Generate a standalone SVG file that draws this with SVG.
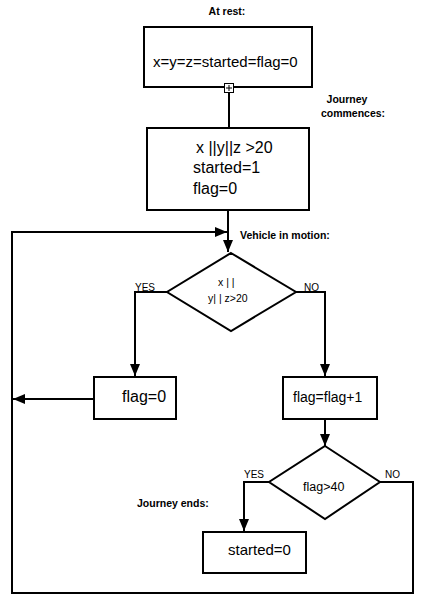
<svg xmlns="http://www.w3.org/2000/svg" width="438" height="606" viewBox="0 0 438 606">
<style>
.box{fill:#fff;stroke:#000;stroke-width:2}
.ln{fill:none;stroke:#000;stroke-width:2}
.t{font-family:"Liberation Sans",Arial,sans-serif;fill:#000}
.b{font-family:"Liberation Sans",Arial,sans-serif;font-weight:bold;font-size:10.5px;fill:#000}
.s{font-family:"Liberation Sans",Arial,sans-serif;font-size:10px;fill:#000}
</style>
<defs>
<marker id="ah" markerUnits="userSpaceOnUse" markerWidth="12" markerHeight="10" viewBox="0 0 12 10" refX="12" refY="5" orient="auto">
<path d="M0,0 L12,5 L0,10 z" fill="#000"/>
</marker>
</defs>
<rect width="438" height="606" fill="#fff"/>
<g id="connectors">
<line class="ln" x1="229" y1="87" x2="229" y2="128"/>
<line class="ln" x1="228" y1="210" x2="228" y2="252" marker-end="url(#ah)"/>
<polyline class="ln" points="12,593 12,232 227,232" marker-end="url(#ah)"/>
<polyline class="ln" points="167,292 135,292 135,376" marker-end="url(#ah)"/>
<polyline class="ln" points="296,292 325,292 325,376" marker-end="url(#ah)"/>
<line class="ln" x1="94" y1="399" x2="13" y2="399" marker-end="url(#ah)"/>
<line class="ln" x1="325" y1="419" x2="325" y2="446" marker-end="url(#ah)"/>
<polyline class="ln" points="269,482 244,482 244,531" marker-end="url(#ah)"/>
<polyline class="ln" points="380,482 413,482 413,593 11,593"/>
<text class="s" x="135" y="291">YES</text>
<text class="s" x="304" y="291">NO</text>
<text class="s" x="244" y="478">YES</text>
<text class="s" x="385" y="478">NO</text>
</g>
<g id="label-rest"><text class="b" x="227" y="15" text-anchor="middle">At rest:</text></g>
<g id="label-commence"><text class="b" x="347" y="103" text-anchor="middle">Journey</text><text class="b" x="353" y="117" text-anchor="middle">commences:</text></g>
<g id="label-motion"><text class="b" x="240" y="239">Vehicle in motion:</text></g>
<g id="label-ends"><text class="b" x="137" y="507">Journey ends:</text></g>
<g id="n-rest">
<rect class="box" x="144" y="27" width="168" height="60"/>
<text class="t" x="153" y="67" font-size="15">x=y=z=started=flag=0</text>
<rect x="224.5" y="83.5" width="9" height="9" fill="#fff" stroke="#000" stroke-width="1"/>
<path d="M229,85 V91 M226,88 H232" stroke="#000" stroke-width="1"/>
</g>
<g id="n-start">
<rect class="box" x="147" y="128" width="162" height="82"/>
<text class="t" x="196" y="153" font-size="16">x ||y||z &gt;20</text>
<text class="t" x="193" y="173" font-size="16">started=1</text>
<text class="t" x="193" y="194" font-size="16">flag=0</text>
</g>
<g id="n-cond1">
<polygon class="box" points="231,253 296,292 231,331 167,292"/>
<text class="t" x="218" y="286" font-size="10.5">x | |</text>
<text class="t" x="208" y="302" font-size="10.5">y| | z&gt;20</text>
</g>
<g id="n-reset">
<rect class="box" x="94" y="377" width="82" height="42"/>
<text class="t" x="122" y="402" font-size="16">flag=0</text>
</g>
<g id="n-inc">
<rect class="box" x="283" y="377" width="94" height="42"/>
<text class="t" x="293" y="402" font-size="14">flag=flag+1</text>
</g>
<g id="n-cond2">
<polygon class="box" points="325,446 380,482 325,519 269,482"/>
<text class="t" x="303" y="491" font-size="12.5">flag&gt;40</text>
</g>
<g id="n-end">
<rect class="box" x="203" y="532" width="103" height="41"/>
<text class="t" x="228" y="555" font-size="15">started=0</text>
</g>
</svg>
